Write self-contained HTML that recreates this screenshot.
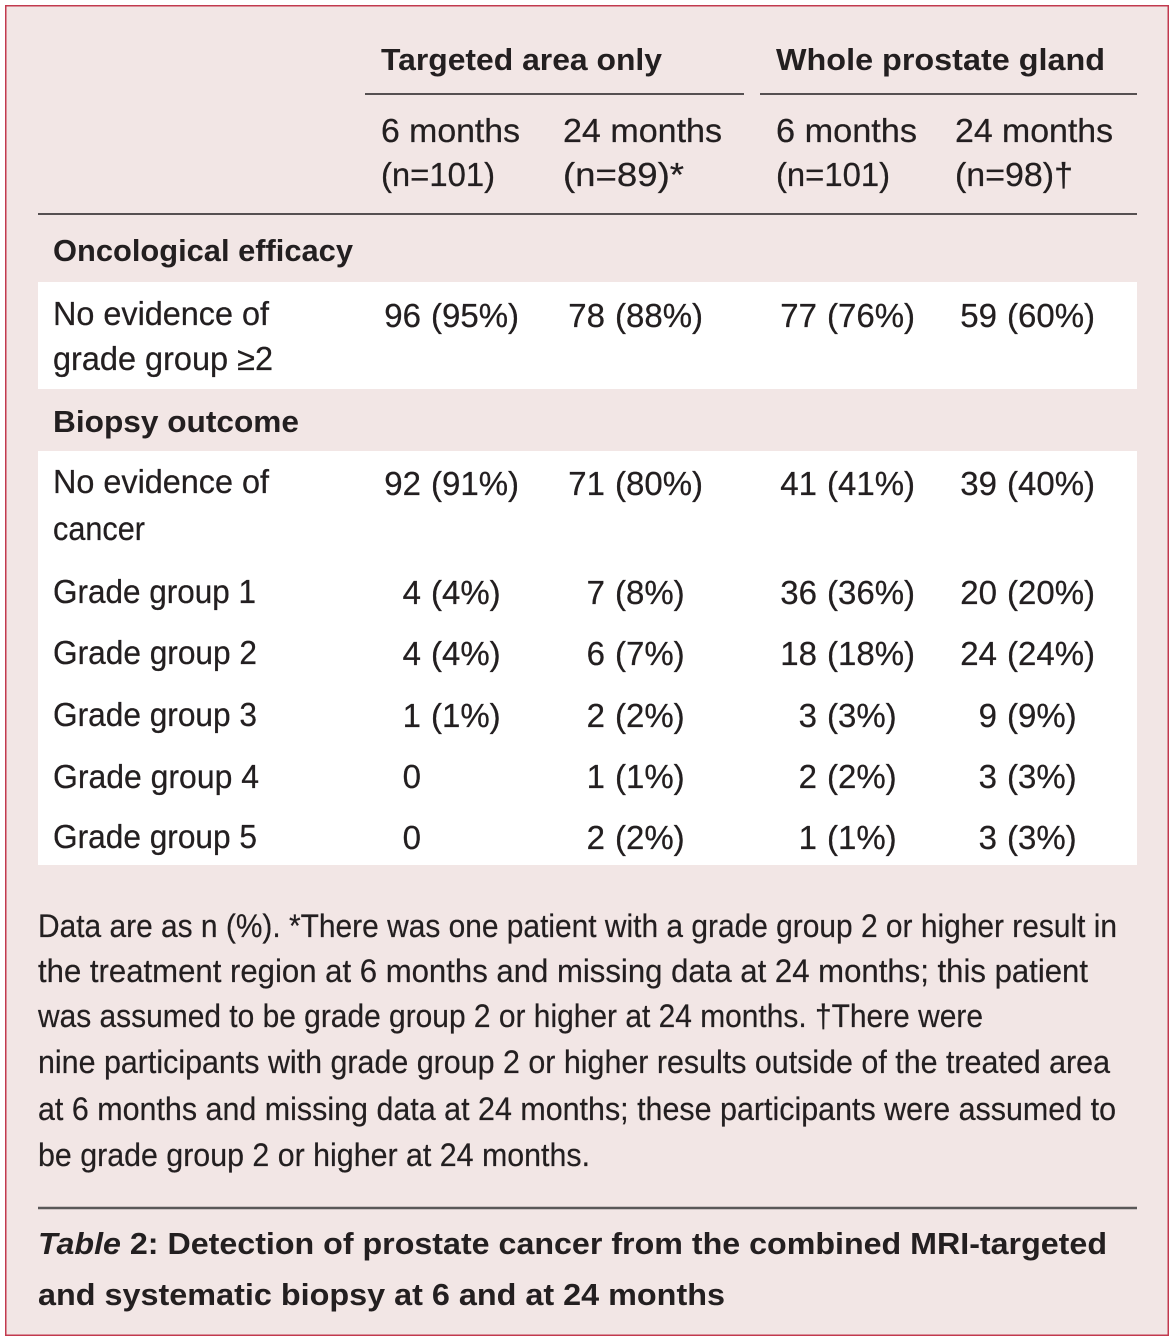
<!DOCTYPE html>
<html>
<head>
<meta charset="utf-8">
<style>
  html,body{margin:0;padding:0;background:#ffffff;}
  svg{display:block;}
  text{font-family:"Liberation Sans",sans-serif;fill:#231f20;}
  .b{font-weight:bold;font-size:31px;}
  .r{font-size:33px;stroke:#231f20;stroke-width:0.25px;}
  .f{font-size:32px;stroke:#231f20;stroke-width:0.2px;}
</style>
</head>
<body>
<svg width="1174" height="1340" viewBox="0 0 1174 1340" xmlns="http://www.w3.org/2000/svg">
  <!-- panel -->
  <rect x="5.75" y="5.75" width="1162.5" height="1329.5" fill="#f2e6e5" stroke="#c23a4e" stroke-width="1.5"/>
  <!-- white bands -->
  <rect x="38" y="282" width="1099" height="107" fill="#ffffff"/>
  <rect x="38" y="451" width="1099" height="414" fill="#ffffff"/>

  <!-- rules -->
  <line x1="365" y1="94" x2="744" y2="94" stroke="#231f20" stroke-width="1.4"/>
  <line x1="760" y1="94" x2="1137" y2="94" stroke="#231f20" stroke-width="1.4"/>
  <line x1="38" y1="214" x2="1137" y2="214" stroke="#231f20" stroke-width="1.4"/>
  <line x1="38" y1="1208" x2="1137" y2="1208" stroke="#5a5858" stroke-width="2.4"/>

  <!-- group headers -->
  <text class="b" x="381" y="70" textLength="281" lengthAdjust="spacingAndGlyphs">Targeted area only</text>
  <text class="b" x="776" y="70" textLength="329" lengthAdjust="spacingAndGlyphs">Whole prostate gland</text>

  <!-- column headers -->
  <text class="r" x="381" y="142" textLength="139" lengthAdjust="spacingAndGlyphs">6 months</text>
  <text class="r" x="381" y="186" textLength="114" lengthAdjust="spacingAndGlyphs">(n=101)</text>
  <text class="r" x="563" y="142" textLength="159" lengthAdjust="spacingAndGlyphs">24 months</text>
  <text class="r" x="563" y="186" textLength="121" lengthAdjust="spacingAndGlyphs">(n=89)*</text>
  <text class="r" x="776" y="142" textLength="141" lengthAdjust="spacingAndGlyphs">6 months</text>
  <text class="r" x="776" y="186" textLength="114" lengthAdjust="spacingAndGlyphs">(n=101)</text>
  <text class="r" x="955" y="142" textLength="158" lengthAdjust="spacingAndGlyphs">24 months</text>
  <text class="r" x="955" y="186" textLength="118" lengthAdjust="spacingAndGlyphs">(n=98)†</text>

  <!-- section headings -->
  <text class="b" x="53" y="261" textLength="300" lengthAdjust="spacingAndGlyphs">Oncological efficacy</text>
  <text class="b" x="53" y="432" textLength="246" lengthAdjust="spacingAndGlyphs">Biopsy outcome</text>

  <!-- row labels -->
  <text class="r" x="53" y="325" textLength="216" lengthAdjust="spacingAndGlyphs">No evidence of</text>
  <text class="r" x="53" y="370" textLength="220" lengthAdjust="spacingAndGlyphs">grade group ≥2</text>
  <text class="r" x="53" y="493" textLength="216" lengthAdjust="spacingAndGlyphs">No evidence of</text>
  <text class="r" x="53" y="540" textLength="92" lengthAdjust="spacingAndGlyphs">cancer</text>
  <text class="r" x="53" y="603" textLength="203" lengthAdjust="spacingAndGlyphs">Grade group 1</text>
  <text class="r" x="53" y="664" textLength="204" lengthAdjust="spacingAndGlyphs">Grade group 2</text>
  <text class="r" x="53" y="726" textLength="204" lengthAdjust="spacingAndGlyphs">Grade group 3</text>
  <text class="r" x="53" y="788" textLength="206" lengthAdjust="spacingAndGlyphs">Grade group 4</text>
  <text class="r" x="53" y="848" textLength="204" lengthAdjust="spacingAndGlyphs">Grade group 5</text>

  <!-- values: n right-aligned, pct left-aligned -->
  <g>
    <!-- row: no evidence of grade group >=2 -->
    <text class="r" x="421" y="327" text-anchor="end">96</text><text class="r" x="431" y="327">(95%)</text>
    <text class="r" x="605" y="327" text-anchor="end">78</text><text class="r" x="615" y="327">(88%)</text>
    <text class="r" x="817" y="327" text-anchor="end">77</text><text class="r" x="827" y="327">(76%)</text>
    <text class="r" x="997" y="327" text-anchor="end">59</text><text class="r" x="1007" y="327">(60%)</text>

    <!-- row: no evidence of cancer -->
    <text class="r" x="421" y="495" text-anchor="end">92</text><text class="r" x="431" y="495">(91%)</text>
    <text class="r" x="605" y="495" text-anchor="end">71</text><text class="r" x="615" y="495">(80%)</text>
    <text class="r" x="817" y="495" text-anchor="end">41</text><text class="r" x="827" y="495">(41%)</text>
    <text class="r" x="997" y="495" text-anchor="end">39</text><text class="r" x="1007" y="495">(40%)</text>

    <!-- GG1 -->
    <text class="r" x="421" y="604" text-anchor="end">4</text><text class="r" x="431" y="604">(4%)</text>
    <text class="r" x="605" y="604" text-anchor="end">7</text><text class="r" x="615" y="604">(8%)</text>
    <text class="r" x="817" y="604" text-anchor="end">36</text><text class="r" x="827" y="604">(36%)</text>
    <text class="r" x="997" y="604" text-anchor="end">20</text><text class="r" x="1007" y="604">(20%)</text>

    <!-- GG2 -->
    <text class="r" x="421" y="665" text-anchor="end">4</text><text class="r" x="431" y="665">(4%)</text>
    <text class="r" x="605" y="665" text-anchor="end">6</text><text class="r" x="615" y="665">(7%)</text>
    <text class="r" x="817" y="665" text-anchor="end">18</text><text class="r" x="827" y="665">(18%)</text>
    <text class="r" x="997" y="665" text-anchor="end">24</text><text class="r" x="1007" y="665">(24%)</text>

    <!-- GG3 -->
    <text class="r" x="421" y="727" text-anchor="end">1</text><text class="r" x="431" y="727">(1%)</text>
    <text class="r" x="605" y="727" text-anchor="end">2</text><text class="r" x="615" y="727">(2%)</text>
    <text class="r" x="817" y="727" text-anchor="end">3</text><text class="r" x="827" y="727">(3%)</text>
    <text class="r" x="997" y="727" text-anchor="end">9</text><text class="r" x="1007" y="727">(9%)</text>

    <!-- GG4 -->
    <text class="r" x="421" y="788" text-anchor="end">0</text>
    <text class="r" x="605" y="788" text-anchor="end">1</text><text class="r" x="615" y="788">(1%)</text>
    <text class="r" x="817" y="788" text-anchor="end">2</text><text class="r" x="827" y="788">(2%)</text>
    <text class="r" x="997" y="788" text-anchor="end">3</text><text class="r" x="1007" y="788">(3%)</text>

    <!-- GG5 -->
    <text class="r" x="421" y="849" text-anchor="end">0</text>
    <text class="r" x="605" y="849" text-anchor="end">2</text><text class="r" x="615" y="849">(2%)</text>
    <text class="r" x="817" y="849" text-anchor="end">1</text><text class="r" x="827" y="849">(1%)</text>
    <text class="r" x="997" y="849" text-anchor="end">3</text><text class="r" x="1007" y="849">(3%)</text>
  </g>

  <!-- footnote -->
  <text class="f" x="38" y="937" textLength="1079" lengthAdjust="spacingAndGlyphs">Data are as n (%). *There was one patient with a grade group 2 or higher result in</text>
  <text class="f" x="38" y="982" textLength="1050" lengthAdjust="spacingAndGlyphs">the treatment region at 6 months and missing data at 24 months; this patient</text>
  <text class="f" x="38" y="1027" textLength="945" lengthAdjust="spacingAndGlyphs">was assumed to be grade group 2 or higher at 24 months. †There were</text>
  <text class="f" x="38" y="1073" textLength="1072" lengthAdjust="spacingAndGlyphs">nine participants with grade group 2 or higher results outside of the treated area</text>
  <text class="f" x="38" y="1120" textLength="1078" lengthAdjust="spacingAndGlyphs">at 6 months and missing data at 24 months; these participants were assumed to</text>
  <text class="f" x="38" y="1166" textLength="552" lengthAdjust="spacingAndGlyphs">be grade group 2 or higher at 24 months.</text>

  <!-- caption -->
  <text class="b" x="38" y="1254" textLength="1069" lengthAdjust="spacingAndGlyphs"><tspan font-style="italic">Table</tspan> 2: Detection of prostate cancer from the combined MRI-targeted</text>
  <text class="b" x="38" y="1305" textLength="687" lengthAdjust="spacingAndGlyphs">and systematic biopsy at 6 and at 24 months</text>
</svg>
</body>
</html>
